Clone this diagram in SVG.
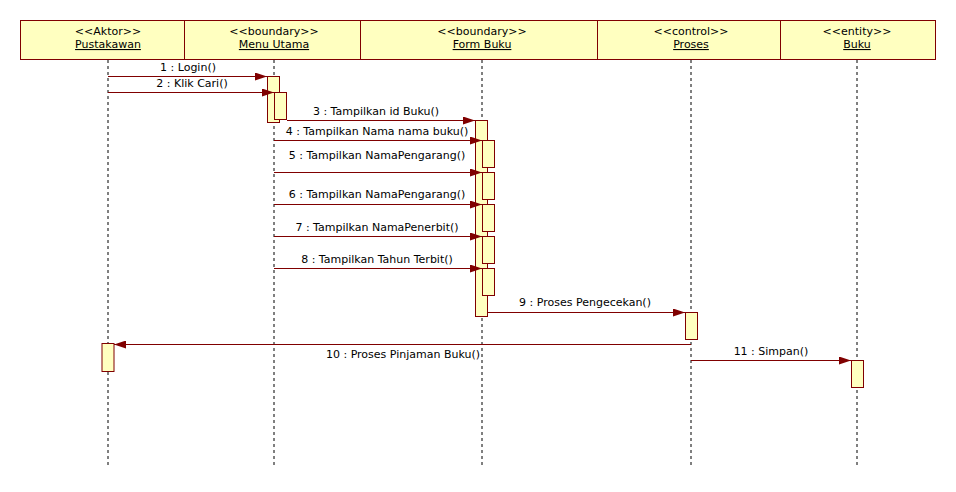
<svg xmlns="http://www.w3.org/2000/svg" width="956" height="492" viewBox="0 0 956 492">
<style>
.hd{fill:#ffffc0;stroke:#800000;stroke-width:1}
.t{font-family:Tahoma,"DejaVu Sans",sans-serif;font-size:11px;fill:#000;text-anchor:middle}
.u{text-decoration:underline}
.ll{stroke:#000;stroke-dasharray:3,3;stroke-width:1}
.act{fill:#ffffc0;stroke:#800000;stroke-width:1}
.m{stroke:#800000;stroke-width:1;fill:none;marker-end:url(#a)}
</style>
<defs><marker id="a" markerWidth="12" markerHeight="8" refX="12" refY="4" orient="auto" markerUnits="userSpaceOnUse"><path d="M0,0L12,4L0,8z" fill="#800000"/></marker></defs>
<rect width="956" height="492" fill="#fff"/>
<g id="lifelines">
<line class="ll" x1="108" y1="60" x2="108" y2="466"/>
<line class="ll" x1="274" y1="60" x2="274" y2="466"/>
<line class="ll" x1="482" y1="60" x2="482" y2="466"/>
<line class="ll" x1="691" y1="60" x2="691" y2="466"/>
<line class="ll" x1="857" y1="60" x2="857" y2="466"/>
</g>
<g id="pustakawan"><rect class="hd" x="20.5" y="20.5" width="164" height="39"/><text class="t" x="108" y="35">&lt;&lt;Aktor&gt;&gt;</text><text class="t u" x="108" y="48">Pustakawan</text><rect class="act" x="102" y="343.5" width="12" height="28"/></g>
<g id="menu"><rect class="hd" x="184.5" y="20.5" width="176" height="39"/><text class="t" x="274" y="35">&lt;&lt;boundary&gt;&gt;</text><text class="t u" x="274" y="48">Menu Utama</text><rect class="act" x="267.5" y="76.5" width="12" height="46"/><rect class="act" x="274.5" y="92.5" width="12" height="27"/></g>
<g id="form"><rect class="hd" x="360.5" y="20.5" width="237" height="39"/><text class="t" x="482" y="35">&lt;&lt;boundary&gt;&gt;</text><text class="t u" x="482" y="48">Form Buku</text><rect class="act" x="475.5" y="120.5" width="12" height="196"/>
<rect class="act" x="482.5" y="140.5" width="12" height="27"/><rect class="act" x="482.5" y="172.5" width="12" height="27"/><rect class="act" x="482.5" y="204.5" width="12" height="27"/><rect class="act" x="482.5" y="236.5" width="12" height="27"/><rect class="act" x="482.5" y="268.5" width="12" height="27"/></g>
<g id="proses"><rect class="hd" x="597.5" y="20.5" width="183" height="39"/><text class="t" x="691" y="35">&lt;&lt;control&gt;&gt;</text><text class="t u" x="691" y="48">Proses</text><rect class="act" x="685.5" y="312.5" width="12" height="27"/></g>
<g id="buku"><rect class="hd" x="780.5" y="20.5" width="155" height="39"/><text class="t" x="857" y="35">&lt;&lt;entity&gt;&gt;</text><text class="t u" x="857" y="48">Buku</text><rect class="act" x="851.5" y="360.5" width="12" height="27"/></g>
<g id="connectors">
<line class="m" x1="108" y1="76.5" x2="267" y2="76.5"/><text class="t" x="188" y="71">1 : Login()</text>
<line class="m" x1="108" y1="92.5" x2="274" y2="92.5"/><text class="t" x="192" y="87">2 : Klik Cari()</text>
<line class="m" x1="287" y1="120.5" x2="475" y2="120.5"/><text class="t" x="376" y="115">3 : Tampilkan id Buku()</text>
<line class="m" x1="274" y1="140.5" x2="482" y2="140.5"/><text class="t" x="377" y="135">4 : Tampilkan Nama nama buku()</text>
<line class="m" x1="274" y1="172.5" x2="482" y2="172.5"/><text class="t" x="377" y="159">5 : Tampilkan NamaPengarang()</text>
<line class="m" x1="274" y1="204.5" x2="482" y2="204.5"/><text class="t" x="377" y="198">6 : Tampilkan NamaPengarang()</text>
<line class="m" x1="274" y1="236.5" x2="482" y2="236.5"/><text class="t" x="377" y="231">7 : Tampilkan NamaPenerbit()</text>
<line class="m" x1="274" y1="268.5" x2="482" y2="268.5"/><text class="t" x="377" y="263">8 : Tampilkan Tahun Terbit()</text>
<line class="m" x1="488" y1="312.5" x2="685" y2="312.5"/><text class="t" x="585" y="306">9 : Proses Pengecekan()</text>
<line class="m" x1="691" y1="344.5" x2="114" y2="344.5"/><text class="t" x="403" y="358">10 : Proses Pinjaman Buku()</text>
<line class="m" x1="691" y1="360.5" x2="851" y2="360.5"/><text class="t" x="771" y="355">11 : Simpan()</text>
</g>
</svg>
